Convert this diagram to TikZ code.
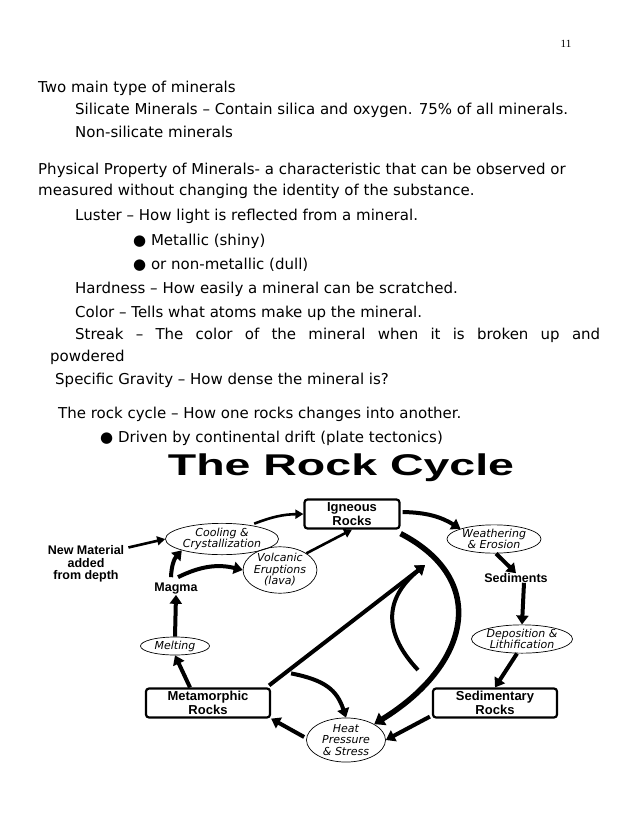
\documentclass[tikz,border=0pt]{standalone}
\usepackage{fontspec}
\setmainfont{DejaVu Sans}
\newfontfamily\boxfont{Liberation Sans}
\newfontfamily\pagefont{Liberation Serif}
\newfontfamily\symfont{DejaVu Sans}
\usetikzlibrary{arrows.meta,shapes.geometric}
\begin{document}
\begin{tikzpicture}[x=1pt,y=-1pt,
  txt/.style={anchor=base west,inner sep=0pt,font=\fontsize{15}{17}\selectfont},
  rbox/.style={draw,line width=2.2pt,rounded corners=3pt,align=center,font=\boxfont\bfseries\fontsize{13}{14}\selectfont,minimum width=124pt,minimum height=29pt,inner sep=1pt},
  proc/.style={draw,ellipse,line width=0.7pt,align=center,font=\itshape\fontsize{11}{11.5}\selectfont,inner sep=0pt},
  lbl/.style={align=center,font=\boxfont\bfseries\fontsize{12.5}{12.5}\selectfont,inner sep=0pt},
  big/.style={line width=4pt,-{Triangle[length=9pt,width=12pt]}},
  huge/.style={line width=5.5pt,-{Triangle[length=10pt,width=14pt]}},
  med/.style={line width=2.6pt,-{Triangle[length=8pt,width=9pt]}}]
\useasboundingbox (0,0) rectangle (638,826);
\node[anchor=base,inner sep=0pt,font=\pagefont\fontsize{11}{12}\selectfont] (pg) at (566,48) {11};
\node[txt] (l1) at (38,93) {Two main type of minerals};
\node[txt] (l2) at (75,115) {Silicate Minerals – Contain silica and oxygen. 75\% of all minerals.};
\node[txt] (l3) at (75,138) {Non-silicate minerals};
\node[txt] (l4) at (38,175) {Physical Property of Minerals- a characteristic that can be observed or};
\node[txt] (l5) at (38,196) {measured without changing the identity of the substance.};
\node[txt] (l6) at (75,220) {Luster – How light is reflected from a mineral.};
\node[txt] (l7) at (133,245) {{\symfont ●} Metallic (shiny)};
\node[txt] (l8) at (133,269) {{\symfont ●} or non-metallic (dull)};
\node[txt] (l9) at (75,293) {Hardness – How easily a mineral can be scratched.};
\node[txt] (l10) at (75,317) {Color – Tells what atoms make up the mineral.};
\node[txt] (l11) at (75,339) {\hbox to 525pt{Streak\hfill–\hfill The\hfill color\hfill of\hfill the\hfill mineral\hfill when\hfill it\hfill is\hfill broken\hfill up\hfill and}};
\node[txt] (l12) at (50,361) {powdered};
\node[txt] (l13) at (55,384) {Specific Gravity – How dense the mineral is?};
\node[txt] (l14) at (58,418) {The rock cycle – How one rocks changes into another.};
\node[txt] (l15) at (100,442) {{\symfont ●} Driven by continental drift (plate tectonics)};
\node[inner sep=0pt,font=\boxfont\bfseries\fontsize{30}{30}\selectfont] (title) at (341,468) {\scalebox{1.55}[1]{The Rock Cycle}};
\node[rbox,minimum width=95pt] (ign) at (352,514) {Igneous\\Rocks};
\node[rbox] (met) at (208,703) {Metamorphic\\Rocks};
\node[rbox] (sed) at (495,703) {Sedimentary\\Rocks};
\node[proc,minimum width=113pt,minimum height=30pt] (cool) at (222,539) {Cooling \&\\Crystallization};
\node[proc,minimum width=94pt,minimum height=25pt] (weath) at (494,539) {Weathering\\\& Erosion};
\node[proc,minimum width=68pt,minimum height=37pt] (volc) at (280,570) {Volcanic\\Eruptions\\(lava)};
\node[proc,minimum width=101pt,minimum height=28pt] (dep) at (522,639) {Deposition \&\\Lithification};
\node[proc,minimum width=69pt,minimum height=18pt] (melt) at (175,646) {Melting};
\node[proc,minimum width=79pt,minimum height=41pt] (heat) at (346,740) {Heat\\Pressure\\\& Stress};
\node[lbl] (newm) at (86,564) {New Material\\added\\from depth};
\node[lbl] (sedi) at (516,578) {Sediments};
\node[lbl] (mag) at (176,589) {Magma};
\coordinate (jn) at (425,565);
\coordinate (arcs) at (418,670);
\draw[med] (newm.north east) ++(4,2) -- (cool.west);
\draw[med] (cool.north east) ++(-8,-4) to[bend left=10] (ign.west);
\draw[med] (volc.north east) -- (ign.south);
\draw[big] (mag.north) ++(-5,-6) to[bend left=20] (cool.south west);
\draw[big] (mag.north) ++(2,-6) to[bend left=20] (volc.west);
\draw[big] (melt.north) -- (mag.south);
\draw[big] (met.north) ++(-18,0) -- (melt.south);
\draw[big] (met.north east) ++(-2,-2) -- (jn);
\draw[big] (arcs) .. controls (385,635) and (382,600) .. (jn);
\draw[huge] (ign.south east) ++(0,4) .. controls (490,580) and (470,665) .. (heat.north east);
\draw[big] (ign.east) ++(2,-2) to[bend left=15] (weath.north west);
\draw[big] (weath.south) ++(2,0) -- (sedi.north);
\draw[big] (sedi.south) ++(8,0) -- (dep.north);
\draw[big] (dep.south) ++(-5,0) -- (sed.north);
\draw[big] (sed.south west) ++(-2,-2) -- (heat.east);
\draw[big] (heat.west) ++(-2,-3) -- (met.south east);
\draw[big] (met.north east) ++(20,-14) .. controls (325,680) and (337,690) .. (heat.north);
\end{tikzpicture}
\end{document}
